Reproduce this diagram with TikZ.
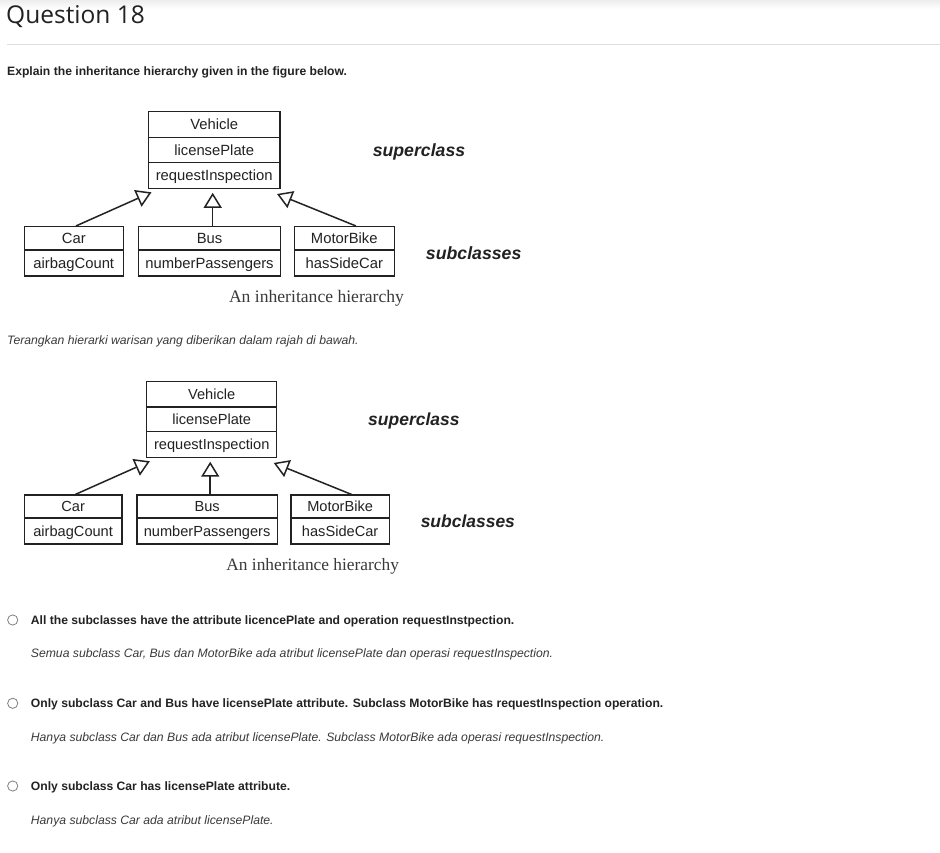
\documentclass[tikz,border=0pt]{standalone}
\usepackage{fontspec}
\setmainfont{Liberation Sans}
\newfontfamily\headfont{Open Sans}
\newfontfamily\capfont{Liberation Serif}
\usetikzlibrary{arrows.meta,calc}
\definecolor{ink}{HTML}{222222}
\definecolor{soft}{HTML}{3A3A3A}
\definecolor{rulegray}{HTML}{DEDEDE}
\definecolor{radiogray}{HTML}{808080}
\tikzset{
  cell/.style={draw=ink, line width=1.5pt, inner sep=0pt, text=ink,
    font=\fontsize{14.8}{17}\selectfont, text height=12.5pt, text depth=2pt},
  inh/.style={draw=ink, line width=1.5pt, -{Triangle[open, length=15pt, width=18pt]}},
  tag/.style={font=\bfseries\itshape\fontsize{17.7}{20}\selectfont, text=ink, inner sep=0pt},
  captxt/.style={font=\capfont\fontsize{17.6}{20}\selectfont, text=soft, inner sep=0pt},
  boldtxt/.style={font=\bfseries\fontsize{12.15}{14}\selectfont, text=ink, inner sep=0pt, anchor=base west},
  itxt/.style={font=\itshape\fontsize{12.2}{14}\selectfont, text=soft, inner sep=0pt, anchor=base west},
  radiobtn/.style={circle, draw=radiogray, line width=0.8pt, minimum size=10.2pt, inner sep=0pt},
  hrule/.style={draw=rulegray, line width=1pt}
}
\newcommand\inhdiagram[1]{%
  \node[cell, minimum width=131.7pt, minimum height=25.6pt] (vn#1) at (214.2,124.5) {Vehicle};
  \node[cell, minimum width=131.7pt, minimum height=25pt] (va#1) at (214.2,149.8) {licensePlate};
  \node[cell, minimum width=131.7pt, minimum height=26pt] (vo#1) at (214.2,175.3) {requestInspection};
  \node[cell, minimum width=99pt, minimum height=23.3pt] (cn#1) at (73.8,238.35) {Car};
  \node[cell, minimum width=99pt, minimum height=26pt] (ca#1) at (73.8,263) {airbagCount};
  \node[cell, minimum width=142.4pt, minimum height=23.3pt] (bn#1) at (209.5,238.35) {Bus};
  \node[cell, minimum width=142.4pt, minimum height=26pt] (ba#1) at (209.5,263) {numberPassengers};
  \node[cell, minimum width=100pt, minimum height=23.3pt] (mn#1) at (344.3,238.35) {MotorBike};
  \node[cell, minimum width=100pt, minimum height=26pt] (ma#1) at (344.3,263) {hasSideCar};
  \coordinate (tc#1) at (151.5,192.3);
  \coordinate (tb#1) at (212.7,192.8);
  \coordinate (tm#1) at (277,194);
  \draw[inh] (cn#1.80) -- (tc#1);
  \draw[inh] (bn#1.north -| tb#1) -- (tb#1);
  \draw[inh] (mn#1.47) -- (tm#1);
  \node[tag] (sup#1) at (419,151.7) {superclass};
  \node[tag] (sub#1) at (473.7,253) {subclasses};
  \node[captxt] (cap#1) at (316.5,298.5) {An inheritance hierarchy};
}
\begin{document}
\begin{tikzpicture}[x=1pt, y=-1pt]
  \fill[white] (0,0) rectangle (940,853);
  \useasboundingbox (0,0) rectangle (940,853);
  \shade[top color=black!7, bottom color=white] (0,0) rectangle (940,9);
  % header
  \node[anchor=base west, inner sep=0pt, text=ink, font=\headfont\fontsize{24.5}{28}\selectfont] (qtitle) at (6,23.5) {Question 18};
  \coordinate (rl) at (7,44.5);
  \coordinate (rr) at (940,44.5);
  \draw[hrule] (rl) -- (rr);
  \node[boldtxt] (qen) at (7,75.5) {Explain the inheritance hierarchy given in the figure below.};
  % diagram 1
  \begin{scope}
    \inhdiagram{A}
  \end{scope}
  \node[itxt] (qms) at (7,344) {Terangkan hierarki warisan yang diberikan dalam rajah di bawah.};
  % diagram 2
  \begin{scope}[shift={(24.3,381.7)}, scale=0.987, shift={(-24.3,-111.7)}, transform shape]
    \inhdiagram{B}
  \end{scope}
  % options
  \node[radiobtn] (r1) at (12.7,620) {};
  \node[boldtxt] (o1) at (30.7,624.3) {All the subclasses have the attribute licencePlate and operation requestInstpection.};
  \node[itxt] (m1) at (30.7,657.6) {Semua subclass Car, Bus dan MotorBike ada atribut licensePlate dan operasi requestInspection.};
  \node[radiobtn] (r2) at (12.7,703.3) {};
  \node[boldtxt] (o2) at (30.7,707.6) {Only subclass Car and Bus have licensePlate attribute. Subclass MotorBike has requestInspection operation.};
  \node[itxt] (m2) at (30.7,741) {Hanya subclass Car dan Bus ada atribut licensePlate. Subclass MotorBike ada operasi requestInspection.};
  \node[radiobtn] (r3) at (12.7,786) {};
  \node[boldtxt] (o3) at (30.7,790.3) {Only subclass Car has licensePlate attribute.};
  \node[itxt] (m3) at (30.7,824.3) {Hanya subclass Car ada atribut licensePlate.};
\end{tikzpicture}
\end{document}
